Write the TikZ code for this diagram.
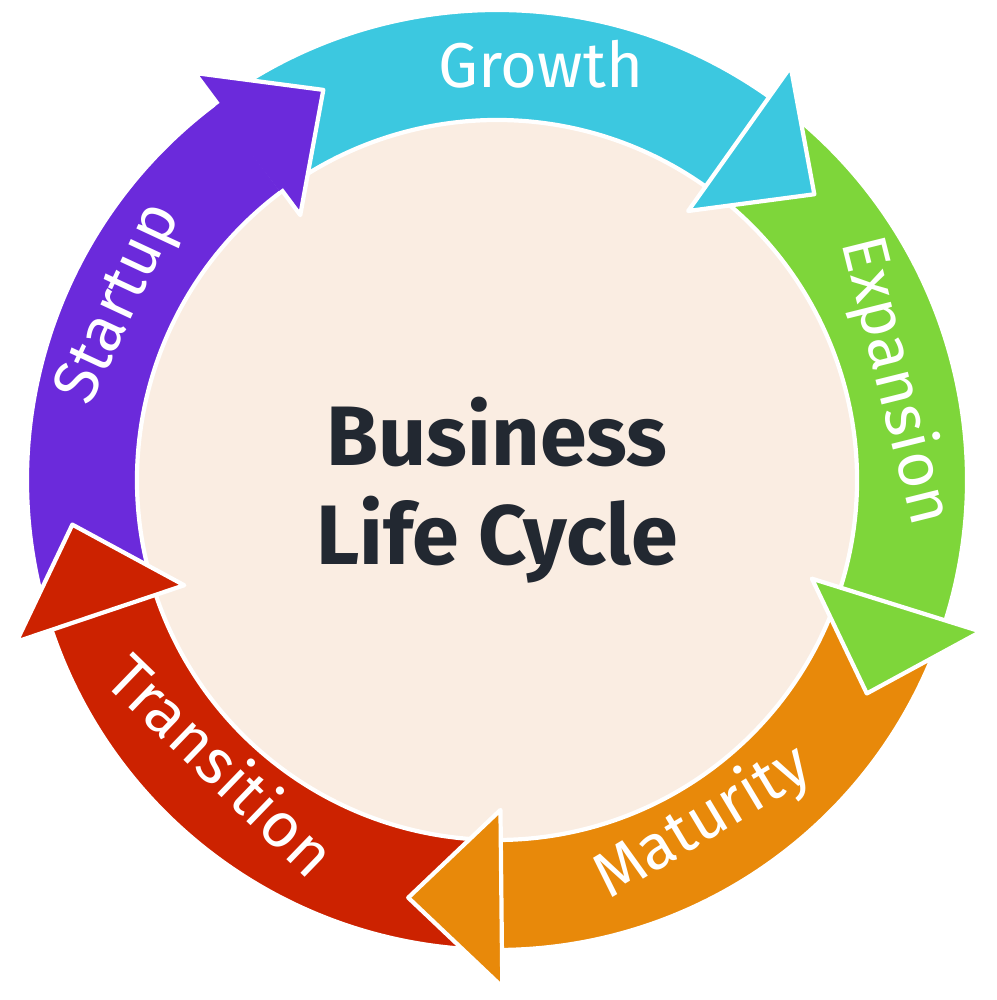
\documentclass[tikz,border=0pt]{standalone}
\usepackage{fontspec}
\setmainfont{Fira Sans}
\definecolor{cpur}{HTML}{6B2ADB}
\definecolor{ccya}{HTML}{3CC8E0}
\definecolor{cgre}{HTML}{7ED63A}
\definecolor{cora}{HTML}{E8890A}
\definecolor{cred}{HTML}{CC2200}
\definecolor{cbei}{HTML}{FAEDE2}
\definecolor{ctxt}{HTML}{222831}
\tikzset{
  band/.style={draw=white,line width=1.2pt,line join=round},
  lbl/.style={text=white,font=\fontsize{18}{18}\selectfont},
}
\begin{document}
\begin{tikzpicture}
\useasboundingbox (0,0) rectangle (9.96,10);
\coordinate (c) at (4.97,5.2);
\fill[cbei] (c) circle (3.62);
% bands
\foreach \w/\col in {126/cpur,54/ccya,-18/cgre,-90/cora,-162/cred}{
  \pgfmathsetmacro{\p}{\w+72}
  \path[band,fill=\col] ([shift={(c)}]\p:3.6) arc[start angle=\p,end angle=\w,radius=3.6]
    -- ([shift={(c)}]\w:4.7) arc[start angle=\w,end angle=\p,radius=4.7] -- cycle;
}
% heads
\foreach \w/\col in {126/cpur,54/ccya,-18/cgre,-90/cora,-162/cred}{
  \pgfmathsetmacro{\t}{\w-12}
  \path[band,fill=\col] ([shift={(c)}]\w+0.6:5.07) -- ([shift={(c)}]\t:4.27) -- ([shift={(c)}]\w+0.6:3.3) -- cycle;
}
\fill[cpur] ([shift={(c)}]124:3.62) arc[start angle=124,end angle=127,radius=3.62] -- ([shift={(c)}]127:4.68) arc[start angle=127,end angle=124,radius=4.68] -- cycle;
\node[lbl,rotate=65] (s) at ([shift={(c)}]155:4.15) {Startup};
\node[lbl] (g) at ([shift={(c)}]84:4.18) {Growth};
\node[lbl,rotate=-76] (e) at ([shift={(c)}]14:4.1) {Expansion};
\node[lbl,rotate=31] (m) at ([shift={(c)}]-59:4.0) {Maturity};
\node[lbl,rotate=-44] (tr) at ([shift={(c)}]226:3.95) {Transition};
\node[text=ctxt,font=\bfseries\fontsize{24}{28}\selectfont,align=center] (title) at (4.97,5.1) {Business\\Life Cycle};
\end{tikzpicture}
\end{document}
